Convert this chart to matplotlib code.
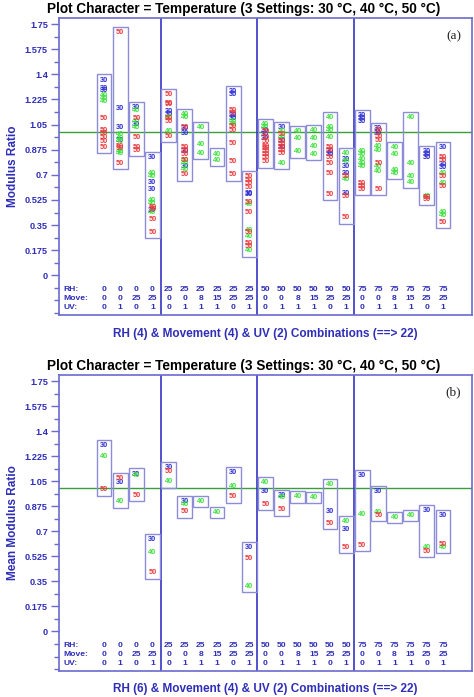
import matplotlib
matplotlib.use("Agg")
import matplotlib.pyplot as plt
from matplotlib.patches import Rectangle
from matplotlib.ticker import MultipleLocator

plt.rcParams['font.family'] = ['Liberation Sans', 'DejaVu Sans']

# Design columns (22 combinations)
rh = [0, 0, 0, 0, 25, 25, 25, 25, 25, 25, 50, 50, 50, 50, 50, 50, 75, 75, 75, 75, 75, 75]
move = [0, 0, 25, 25, 0, 0, 8, 15, 25, 25, 0, 0, 8, 15, 25, 25, 0, 0, 8, 15, 25, 25]
uv = [0, 1, 0, 1, 0, 1, 1, 1, 0, 1, 0, 1, 1, 1, 0, 1, 0, 1, 1, 1, 0, 1]

# (a) individual modulus ratios, per column, per temperature
a_30 = [[1.36, 1.30, 1.29], [1.165, 1.03, 0.94], [1.17, 1.05], [0.82, 0.65, 0.60, 0.45],
        [1.14, 1.12], [1.02, 0.99, 0.86, 0.76], [], [], [1.28, 1.26, 1.11, 1.09],
        [0.57, 0.56], [1.01, 0.98, 0.95], [1.03, 0.94, 0.89], [], [], [0.86, 0.84],
        [0.81, 0.76, 0.71, 0.57], [1.11, 1.09, 1.07], [1.02, 0.99], [], [],
        [0.86, 0.84, 0.82], [0.89, 0.77, 0.75]]
a_40 = [[1.25, 1.23, 1.21], [0.98, 0.95, 0.93, 0.86, 0.85], [1.15, 1.07, 1.03],
        [0.71, 0.69, 0.52, 0.50, 0.44], [1.10, 1.00], [1.12, 1.10, 0.80, 0.78, 0.74],
        [1.03, 0.91, 0.85], [0.845, 0.80], [1.07, 1.05], [0.49, 0.31, 0.27, 0.17],
        [1.05, 1.03], [1.00, 0.96, 0.78], [1.00, 0.95, 0.86], [1.01, 0.955, 0.90, 0.845],
        [1.10, 1.03, 1.01, 0.96], [0.85, 0.79, 0.67], [0.86, 0.84, 0.81, 0.78, 0.76],
        [0.90, 0.87, 0.76, 0.72], [0.89, 0.84, 0.73, 0.71], [1.10, 0.78, 0.69, 0.65],
        [0.55], [0.71, 0.64, 0.44, 0.42]]
a_50 = [[1.095, 1.01, 0.99, 0.96, 0.93, 0.89], [1.69, 0.90, 0.88, 0.78], [1.095, 0.96, 0.89, 0.87],
        [0.47, 0.46, 0.39, 0.30], [1.26, 1.20, 1.19, 1.09, 1.07, 0.97],
        [1.03, 0.89, 0.87, 0.84, 0.80, 0.70], [], [], [1.15, 1.13, 1.04, 1.01, 0.92, 0.79, 0.70],
        [0.69, 0.66, 0.64, 0.61, 0.51, 0.44, 0.30, 0.22, 0.20],
        [1.00, 0.96, 0.93, 0.90, 0.88, 0.86, 0.84, 0.82, 0.79], [0.98, 0.93, 0.91, 0.89, 0.87, 0.85],
        [], [], [0.89, 0.87, 0.82, 0.78, 0.71, 0.565], [0.69, 0.55, 0.40], [0.64, 0.62, 0.60],
        [1.01, 0.97, 0.94, 0.78, 0.60], [], [], [0.54, 0.53], [0.82, 0.80, 0.69, 0.62, 0.37]]

# (b) mean modulus ratios (None = temperature not run)
b_30 = [1.30, 1.04, 1.10, 0.64, 1.145, 0.905, None, None, 1.11, 0.585, 0.975,
        0.95, None, None, 0.84, 0.71, 1.09, 0.975, None, None, 0.845, 0.81]
b_40 = [1.22, 0.905, 1.09, 0.55, 1.045, 0.885, 0.91, 0.83, 1.01, 0.315, 1.04,
        0.935, 0.94, 0.935, 1.025, 0.77, 0.815, 0.83, 0.795, 0.81, 0.59, 0.585]
b_50 = [0.99, 1.07, 0.95, 0.41, 1.12, 0.835, None, None, 0.94, 0.51, 0.89,
        0.85, None, None, 0.755, 0.59, 0.60, 0.81, None, None, 0.56, 0.61]

temp_colors = {"30": "#2a2ad2", "40": "#3ee03e", "50": "#e8383c"}
frame_c = "#6a6ad0"
sep_c = "#3434c4"
box_c = "#8c8cd8"
text_c = "#2e2eb8"

title = "Plot Character = Temperature (3 Settings: 30 \u00b0C, 40 \u00b0C, 50 \u00b0C)"


def draw_panel(ax, t30, t40, t50, ylabel, tag):
    pad = 0.04
    for j in range(len(rh)):
        x = j + 1
        groups = [("30", t30[j]), ("40", t40[j]), ("50", t50[j])]
        allv = [v for _, vs in groups for v in vs]
        if not allv:
            continue
        lo, hi = min(allv) - pad, max(allv) + pad
        ax.add_patch(Rectangle((x - 0.46, lo), 0.92, hi - lo, fill=False,
                               ec=box_c, lw=1.0, zorder=2))
        for lab, vs in groups:
            for v in vs:
                ax.text(x, v, lab, ha="center", va="center", fontsize=5.3,
                        fontweight="bold", color=temp_colors[lab], zorder=3)

    ax.axhline(1.0, color="#3a9e3a", lw=1.0, zorder=1)
    for xs in (4.5, 10.5, 16.5):
        ax.axvline(xs, color=sep_c, lw=1.2, zorder=1)

    # design rows at the bottom
    rows = [("RH:", rh, -0.10), ("Move:", move, -0.163), ("UV:", uv, -0.226)]
    for name, vals, yy in rows:
        ax.text(-1.5, yy, name, ha="left", va="center", fontsize=6.1,
                fontweight="bold", color=text_c)
        for j, v in enumerate(vals):
            ax.text(j + 1, yy, str(v), ha="center", va="center", fontsize=6.1,
                    fontweight="bold", color=text_c)

    ax.set_xlim(-1.79, 23.8)
    ax.set_ylim(-0.276, 1.792)
    ax.set_xticks([])
    yt = [i * 0.175 for i in range(11)]
    ax.set_yticks(yt)
    ax.set_yticklabels([f"{round(v, 3):g}" for v in yt])
    ax.yaxis.set_minor_locator(MultipleLocator(0.0875))
    ax.tick_params(axis="y", which="major", length=6, width=1, color=frame_c,
                   labelsize=6.6, labelcolor=text_c, pad=2)
    ax.tick_params(axis="y", which="minor", length=3.5, width=1, color=frame_c)
    for lbl in ax.get_yticklabels():
        lbl.set_fontweight("bold")
    for sp in ax.spines.values():
        sp.set_color(frame_c)
        sp.set_linewidth(1.2)

    ax.set_ylabel(ylabel, fontsize=8.5, fontweight="bold", color=text_c)
    ax.yaxis.set_label_coords(-0.098, 0.5)
    ax.text(0.955, 0.94, tag, transform=ax.transAxes, ha="center", va="center",
            fontsize=9.5, family=["Liberation Serif", "DejaVu Serif"], color="#222222")


fig = plt.figure(figsize=(4.74, 6.97), dpi=100)
W, H = 474, 697
ax_a = fig.add_axes([59 / W, 1 - 315 / H, 413 / W, 297 / H])
ax_b = fig.add_axes([59 / W, 1 - 671 / H, 413 / W, 296 / H])

draw_panel(ax_a, a_30, a_40, a_50, "Modulus Ratio", "(a)")

wrap = lambda vals: [[] if v is None else [v] for v in vals]
draw_panel(ax_b, wrap(b_30), wrap(b_40), wrap(b_50), "Mean Modulus Ratio", "(b)")

fig.text(244 / W, 1 - 9 / H, title, ha="center", va="center", fontsize=9.8,
         fontweight="bold", color="black")
fig.text(244 / W, 1 - 366 / H, title, ha="center", va="center", fontsize=9.8,
         fontweight="bold", color="black")
fig.text(265.5 / W, 1 - 334 / H, "RH (4) & Movement (4) & UV (2) Combinations (==> 22)",
         ha="center", va="center", fontsize=8.5, fontweight="bold", color=text_c)
fig.text(265.5 / W, 1 - 689 / H, "RH (6) & Movement (4) & UV (2) Combinations (==> 22)",
         ha="center", va="center", fontsize=8.5, fontweight="bold", color=text_c)

fig.savefig("out.png", dpi=100)
